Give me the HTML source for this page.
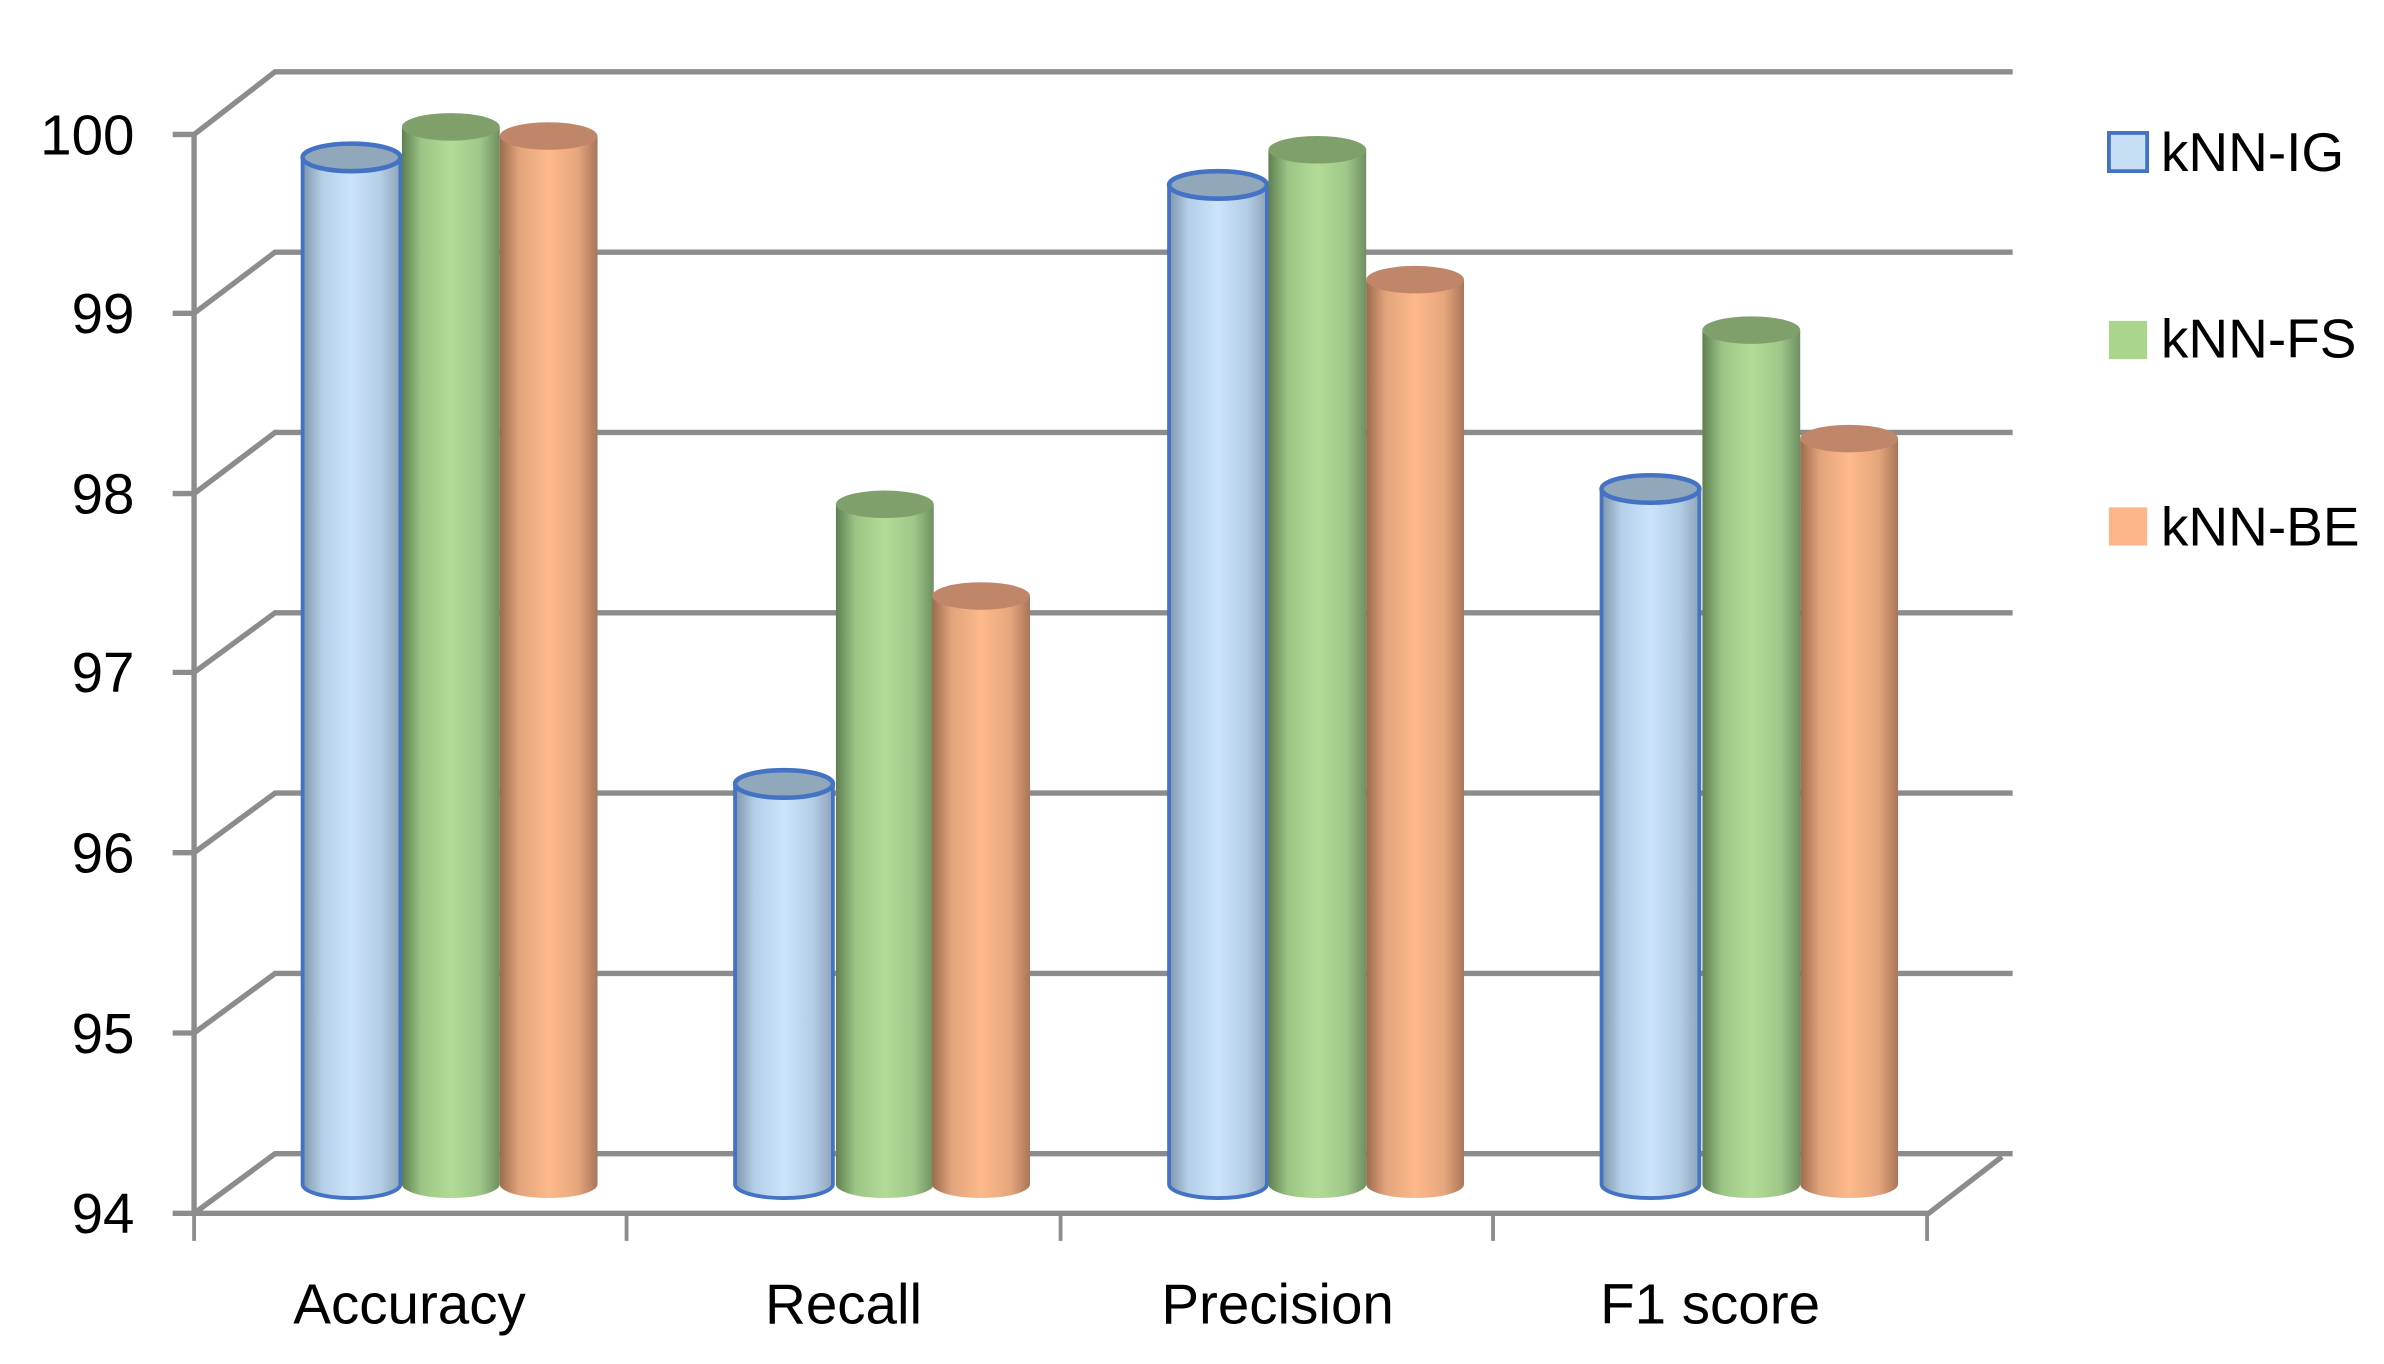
<!DOCTYPE html>
<html><head><meta charset="utf-8"><style>html,body{margin:0;padding:0;background:#fff}svg{display:block}</style></head>
<body>
<svg width="2384" height="1364" viewBox="0 0 1560 892.6" preserveAspectRatio="none" xmlns="http://www.w3.org/2000/svg" font-family="Liberation Sans, sans-serif">
<defs>
<linearGradient id="gb" x1="0" x2="1"><stop offset="0" stop-color="#7f95ab"/><stop offset="0.2" stop-color="#b4cfe8"/><stop offset="0.5" stop-color="#cbe4fb"/><stop offset="0.8" stop-color="#b3cde6"/><stop offset="1" stop-color="#8ea3b8"/></linearGradient>
<linearGradient id="gg" x1="0" x2="1"><stop offset="0" stop-color="#5f7f52"/><stop offset="0.2" stop-color="#9cc585"/><stop offset="0.5" stop-color="#b2dc96"/><stop offset="0.8" stop-color="#9fc789"/><stop offset="1" stop-color="#6f8f60"/></linearGradient>
<linearGradient id="go" x1="0" x2="1"><stop offset="0" stop-color="#9a6c4e"/><stop offset="0.2" stop-color="#e2a47c"/><stop offset="0.5" stop-color="#fdba8a"/><stop offset="0.8" stop-color="#e6a67d"/><stop offset="1" stop-color="#a87658"/></linearGradient>
</defs>
<g stroke="#8c8c8c" stroke-width="3.5" fill="none">
<path d="M127,88 V794 H1262 L1310,757"/>
<path d="M127,88 L180,47 H1317 M127,205 L180,165 H1317 M127,323 L180,283 H1317 M127,440 L180,401 H1317 M127,558 L180,519 H1317 M127,676 L180,637 H1317 M127,794 L180,755 H1317"/>
<path d="M113,88 H127 M113,205 H127 M113,323 H127 M113,440 H127 M113,558 H127 M113,676 H127 M113,794 H127"/>
<path d="M127,794 V812 M410,794 V812 M694,794 V812 M977,794 V812 M1261,794 V812" stroke-width="2.5"/>
</g>
<g font-size="37" fill="#000" text-anchor="end">
<text x="88" y="101">100</text><text x="88" y="218">99</text><text x="88" y="336">98</text><text x="88" y="453">97</text><text x="88" y="571">96</text><text x="88" y="689">95</text><text x="88" y="807">94</text>
</g>
<g font-size="37" fill="#000" text-anchor="middle">
<text x="268" y="866">Accuracy</text><text x="552" y="866">Recall</text><text x="836" y="866">Precision</text><text x="1119" y="866">F1 score</text>
</g>
<g>
<path d="M198,103 V775 A32,9 0 0 0 262,775 V103 Z" fill="url(#gb)" stroke="#4472c4" stroke-width="2.5"/><ellipse cx="230" cy="103" rx="32" ry="9" fill="#91a7ba" stroke="#4472c4" stroke-width="3"/>
<path d="M263,83 V775 A32,9 0 0 0 327,775 V83 Z" fill="url(#gg)"/><ellipse cx="295" cy="83" rx="32" ry="9" fill="#7fa06b"/>
<path d="M327,89 V775 A32,9 0 0 0 391,775 V89 Z" fill="url(#go)"/><ellipse cx="359" cy="89" rx="32" ry="9" fill="#c0866a"/>

<path d="M481,513 V775 A32,9 0 0 0 545,775 V513 Z" fill="url(#gb)" stroke="#4472c4" stroke-width="2.5"/><ellipse cx="513" cy="513" rx="32" ry="9" fill="#91a7ba" stroke="#4472c4" stroke-width="3"/>
<path d="M547,330 V775 A32,9 0 0 0 611,775 V330 Z" fill="url(#gg)"/><ellipse cx="579" cy="330" rx="32" ry="9" fill="#7fa06b"/>
<path d="M610,390 V775 A32,9 0 0 0 674,775 V390 Z" fill="url(#go)"/><ellipse cx="642" cy="390" rx="32" ry="9" fill="#c0866a"/>

<path d="M765,121 V775 A32,9 0 0 0 829,775 V121 Z" fill="url(#gb)" stroke="#4472c4" stroke-width="2.5"/><ellipse cx="797" cy="121" rx="32" ry="9" fill="#91a7ba" stroke="#4472c4" stroke-width="3"/>
<path d="M830,98 V775 A32,9 0 0 0 894,775 V98 Z" fill="url(#gg)"/><ellipse cx="862" cy="98" rx="32" ry="9" fill="#7fa06b"/>
<path d="M894,183 V775 A32,9 0 0 0 958,775 V183 Z" fill="url(#go)"/><ellipse cx="926" cy="183" rx="32" ry="9" fill="#c0866a"/>

<path d="M1048,320 V775 A32,9 0 0 0 1112,775 V320 Z" fill="url(#gb)" stroke="#4472c4" stroke-width="2.5"/><ellipse cx="1080" cy="320" rx="32" ry="9" fill="#91a7ba" stroke="#4472c4" stroke-width="3"/>
<path d="M1114,216 V775 A32,9 0 0 0 1178,775 V216 Z" fill="url(#gg)"/><ellipse cx="1146" cy="216" rx="32" ry="9" fill="#7fa06b"/>
<path d="M1178,287 V775 A32,9 0 0 0 1242,775 V287 Z" fill="url(#go)"/><ellipse cx="1210" cy="287" rx="32" ry="9" fill="#c0866a"/>
</g>
<g font-size="36" fill="#000">
<rect x="1380" y="87" width="25" height="25" fill="#c6dff5" stroke="#4472c4" stroke-width="2.5"/><text x="1414" y="112">kNN-IG</text>
<rect x="1380" y="210" width="25" height="25" fill="#a9d68c"/><text x="1414" y="234">kNN-FS</text>
<rect x="1380" y="332" width="25" height="25" fill="#fdb68a"/><text x="1414" y="357">kNN-BE</text>
</g>
</svg>
</body></html>
